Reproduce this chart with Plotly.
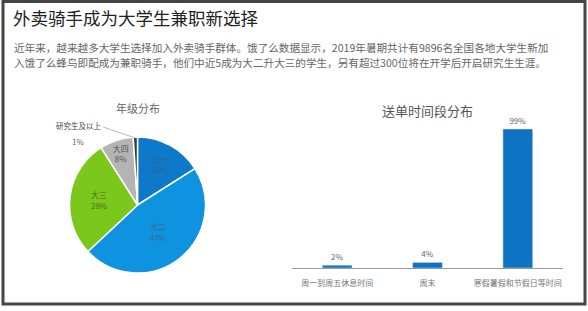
import plotly.graph_objects as go

W, H = 588, 311

pie_labels = ["大一", "大二", "大三", "大四", "研究生及以上"]
pie_values = [16, 47, 28, 8, 1]
pie_colors = ["#0f79c9", "#0f93e0", "#7bc71c", "#b4b4b4", "#2d3a45"]

bar_cats = ["周一到周五休息时间", "周末", "寒假暑假和节假日等时间"]
bar_vals = [2, 4, 99]

title = "外卖骑手成为大学生兼职新选择"
para1 = "近年来，越来越多大学生选择加入外卖骑手群体。饿了么数据显示，2019年暑期共计有9896名全国各地大学生新加"
para2 = "入饿了么蜂鸟即配成为兼职骑手，他们中近5成为大二升大三的学生，另有超过300位将在开学后开启研究生生涯。"

FONT = "Noto Sans CJK SC"

def px(x):
    return x / W

def py(y):
    return 1 - y / H

fig = go.Figure()

fig.add_trace(go.Pie(
    labels=pie_labels,
    values=pie_values,
    sort=False,
    direction="clockwise",
    rotation=0,
    marker=dict(colors=pie_colors, line=dict(color="white", width=1.5)),
    texttemplate=["%{label}<br>%{value}%"] * 4 + [""],
    textposition="inside",
    insidetextorientation="horizontal",
    textfont=dict(family=FONT, size=8,
                  color=["#3b5f80", "#3b6a90", "#4a6b20", "#555555", "#555555"]),
    domain=dict(x=[px(69.5), px(205.5)], y=[py(273), py(137)]),
    showlegend=False,
    hoverinfo="label+percent",
))

fig.add_trace(go.Bar(
    x=bar_cats,
    y=bar_vals,
    width=0.33,
    marker=dict(color="#0e73c2"),
    text=[f"{v}%" for v in bar_vals],
    textposition="outside",
    textfont=dict(family=FONT, size=8, color="#666666"),
    cliponaxis=False,
    showlegend=False,
))

fig.update_layout(
    width=W, height=H,
    margin=dict(l=0, r=0, t=0, b=0),
    paper_bgcolor="white",
    plot_bgcolor="white",
    font=dict(family=FONT),
    xaxis=dict(domain=[px(292), px(563)], range=[-0.5, 2.5],
               showline=True, linecolor="#9a9a9a", linewidth=1,
               showgrid=False, zeroline=False, ticks="",
               tickfont=dict(family=FONT, size=8, color="#777777"),
               ticklabelstandoff=7),
    yaxis=dict(domain=[py(268), py(268) + 140.4 / H], range=[0, 100],
               visible=False, showgrid=False),
    bargap=0.67,
)

shapes = [
    dict(type="rect", xref="paper", yref="paper",
         x0=px(3), x1=px(585), y0=py(304), y1=py(1.5),
         line=dict(color="#454545", width=3), fillcolor="rgba(0,0,0,0)"),
    dict(type="line", xref="paper", yref="paper",
         x0=px(103), y0=py(127), x1=px(135.5), y1=py(138),
         line=dict(color="#aaaaaa", width=0.8)),
]

annotations = [
    dict(text=title, x=px(11), y=py(18), xref="paper", yref="paper",
         xanchor="left", yanchor="middle", showarrow=False,
         font=dict(family=FONT, size=17.5, color="#222222")),
    dict(text=para1, x=px(12), y=py(47), xref="paper", yref="paper",
         xanchor="left", yanchor="middle", showarrow=False,
         font=dict(family=FONT, size=10.6, color="#666666")),
    dict(text=para2, x=px(12), y=py(62), xref="paper", yref="paper",
         xanchor="left", yanchor="middle", showarrow=False,
         font=dict(family=FONT, size=10.6, color="#666666")),
    dict(text="年级分布", x=px(138), y=py(108), xref="paper", yref="paper",
         xanchor="center", yanchor="middle", showarrow=False,
         font=dict(family=FONT, size=11, color="#666666")),
    dict(text="送单时间段分布", x=px(427), y=py(110), xref="paper", yref="paper",
         xanchor="center", yanchor="middle", showarrow=False,
         font=dict(family=FONT, size=13, color="#555555")),
    dict(text=pie_labels[4], x=px(79), y=py(126), xref="paper", yref="paper",
         xanchor="center", yanchor="middle", showarrow=False,
         font=dict(family=FONT, size=7.5, color="#444444")),
    dict(text=f"{pie_values[4]}%", x=px(78), y=py(141), xref="paper", yref="paper",
         xanchor="center", yanchor="middle", showarrow=False,
         font=dict(family=FONT, size=8, color="#666666")),
]

fig.update_layout(shapes=shapes, annotations=annotations)

fig.write_html("out.html")
